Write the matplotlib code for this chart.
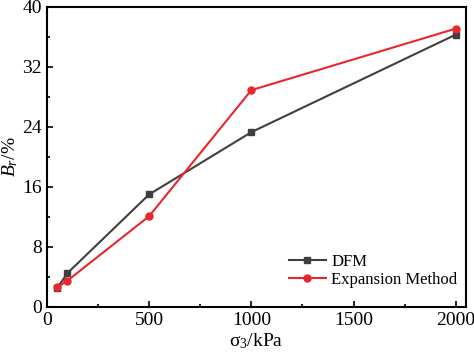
import matplotlib
matplotlib.use("Agg")
import matplotlib.pyplot as plt
from matplotlib.ticker import MultipleLocator

# confining pressure (kPa)
sigma3 = [50, 100, 500, 1000, 2000]
# breakage index Br (%)
br_dfm = [2.5, 4.5, 15.0, 23.3, 36.3]
br_expansion = [2.6, 3.5, 12.1, 28.9, 37.1]

plt.rcParams["font.family"] = "Liberation Serif"
plt.rcParams["mathtext.fontset"] = "custom"
plt.rcParams["mathtext.rm"] = "Liberation Serif"
plt.rcParams["mathtext.it"] = "Liberation Serif:italic"
plt.rcParams["font.size"] = 14

fig = plt.figure(figsize=(4.74, 3.62), dpi=100)
ax = fig.add_axes([0.099, 0.152, 0.884, 0.829])

ax.plot(sigma3, br_dfm, color="#3f3f3f", marker="s", markersize=5, lw=1.5, label="DFM")
ax.plot(sigma3, br_expansion, color="#e8262b", marker="o", markersize=5, lw=1.5,
        label="Expansion Method")

ax.set_xlim(0, 2050)
ax.set_ylim(0, 40)
ax.xaxis.set_major_locator(MultipleLocator(500))
ax.xaxis.set_minor_locator(MultipleLocator(250))
ax.yaxis.set_major_locator(MultipleLocator(8))
ax.yaxis.set_minor_locator(MultipleLocator(4))
ax.tick_params(which="both", direction="in", width=1.2)
ax.tick_params(which="major", length=4)
ax.tick_params(which="minor", length=2.5)
for s in ax.spines.values():
    s.set_linewidth(1.5)

ax.set_xlabel(r"σ$_3$/kPa", labelpad=2)
ax.set_ylabel(r"$B_r$/%", labelpad=2)

ax.legend(loc="lower right", bbox_to_anchor=(1.0, 0.035), frameon=False,
          fontsize=12, handlelength=2.2, handletextpad=0.35,
          borderaxespad=0.1, labelspacing=0.15)

fig.savefig("out.png", dpi=100)
